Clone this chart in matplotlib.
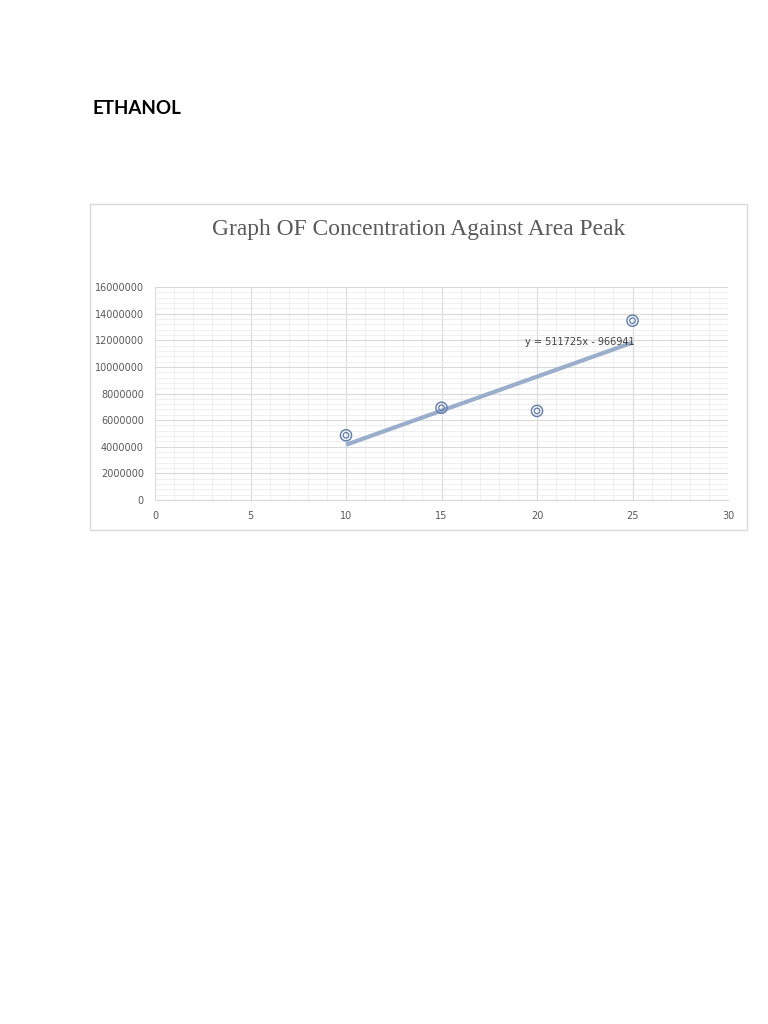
import numpy as np
import matplotlib
matplotlib.use("Agg")
import matplotlib.pyplot as plt
from matplotlib.patches import Rectangle
from matplotlib.ticker import MultipleLocator

# Daten: Konzentration gegen Peakfläche
concentration = [10, 15, 20, 25]
area_peak = [4860000, 6930000, 6690000, 13470000]
trend_label = "y = 511725x - 966941"

x_ticks = [0, 5, 10, 15, 20, 25, 30]
y_ticks = [0, 2000000, 4000000, 6000000, 8000000, 10000000, 12000000, 14000000, 16000000]

fig = plt.figure(figsize=(7.68, 10.24), dpi=100)

# Überschrift des Dokuments
fig.text(92 / 768, 1 - 108 / 1024, "ETHANOL", fontsize=13.5, fontweight="bold",
         family="Lato", va="center", ha="left", color="black")

# Rahmen um das Diagramm
fig.patches.append(Rectangle((90 / 768, 1 - 530 / 1024), 657 / 768, 326 / 1024,
                             transform=fig.transFigure, fill=False,
                             edgecolor="#d9d9d9", linewidth=1))

fig.text(419 / 768, 1 - 229 / 1024, "Graph OF Concentration Against Area Peak",
         fontsize=16.9, family="Liberation Serif", color="#595959",
         ha="center", va="center")

ax = fig.add_axes([155 / 768, 1 - 500 / 1024, 573 / 768, 213 / 1024])
ax.set_xlim(0, 30)
ax.set_ylim(0, 16000000)
ax.set_xticks(x_ticks)
ax.set_yticks(y_ticks)
ax.set_xticklabels([str(t) for t in x_ticks])
ax.set_yticklabels([str(t) for t in y_ticks])
ax.xaxis.set_minor_locator(MultipleLocator(1))
ax.yaxis.set_minor_locator(MultipleLocator(400000))
ax.grid(True, which="major", color="#d9d9d9", linewidth=0.8)
ax.grid(True, which="minor", color="#ececec", linewidth=0.6)
ax.set_axisbelow(True)
ax.tick_params(which="both", length=0, labelsize=7, colors="#595959", pad=8)
for s in ax.spines.values():
    s.set_visible(False)
ax.spines["bottom"].set_visible(True)
ax.spines["bottom"].set_color("#d9d9d9")

# lineare Trendlinie
slope, intercept = np.polyfit(concentration, area_peak, 1)
xs = np.array([min(concentration), max(concentration)])
ax.plot(xs, slope * xs + intercept, color="#9aaecb", linewidth=3, solid_capstyle="butt", zorder=2)

# Punkte als Doppelkreis
ax.scatter(concentration, area_peak, s=65, facecolors="none", edgecolors="#5d7bab",
           linewidths=1.0, zorder=3)
ax.scatter(concentration, area_peak, s=16, facecolors="none", edgecolors="#5d7bab",
           linewidths=0.9, zorder=3)

ax.text(22.25, 11850000, trend_label, fontsize=7, color="#404040", ha="center", va="center")

fig.savefig("out.png", dpi=100, facecolor="white")
